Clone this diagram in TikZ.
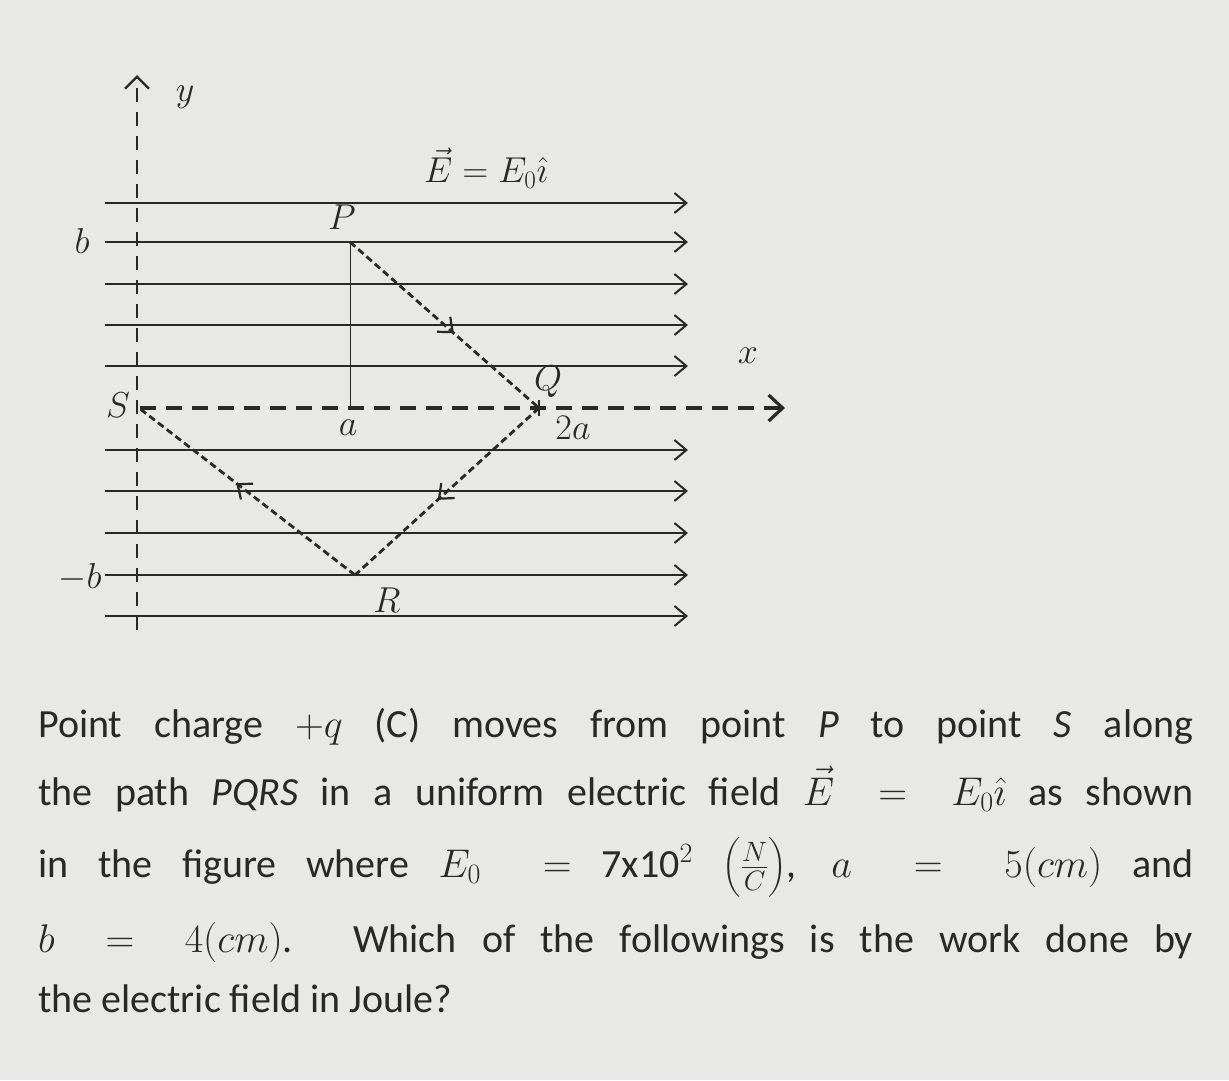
\RequirePackage{fix-cm}
\documentclass[tikz,border=0pt]{standalone}
\usepackage{amsmath}
\usepackage{fontspec}
\setmainfont{Carlito}
\usetikzlibrary{arrows.meta,decorations.markings}
\definecolor{bg}{RGB}{232,232,230}
\definecolor{ink}{RGB}{40,40,40}
\tikzset{
 fline/.style={ink,line width=2.6pt,-{Straight Barb[length=12pt,width=20pt,line width=2pt]}},
 pathseg/.style={ink,line width=2.8pt,dash pattern=on 7pt off 4pt,
   postaction={decorate},decoration={markings,mark=at position 0.55 with {\arrow{Straight Barb[length=12pt,width=20pt,line width=2.2pt]}}}},
 lab/.style={ink,font=\fontsize{36}{42}\selectfont},
 txt/.style={ink,anchor=base west,inner sep=0pt,font=\fontsize{40}{48}\selectfont},
 tick/.style={ink,line width=2.2pt}
}
\begin{document}
\begin{tikzpicture}[x=1pt,y=-1pt]
\fill[bg] (0,0) rectangle (1229,1080);
\useasboundingbox (0,0) rectangle (1229,1080);
% field lines
\foreach \yy in {203,242,284,325,366,450,491,533,575,616}{
  \coordinate (l\yy) at (105,\yy); \coordinate (r\yy) at (688,\yy);
  \draw[fline] (l\yy) -- (r\yy);
  \draw[tick] (130,\yy) -- (144,\yy);
}
% axes
\coordinate (yb) at (137,630); \coordinate (yt) at (137,75);
\draw[ink,line width=2.4pt,dash pattern=on 14pt off 10pt,-{Straight Barb[length=12pt,width=24pt,line width=2.4pt]}] (yb) -- (yt);
\coordinate (xl) at (140,408); \coordinate (xr) at (785,408);
\draw[ink,line width=3.2pt,dash pattern=on 16pt off 10pt,-{Straight Barb[length=14pt,width=26pt,line width=3.2pt]}] (xl) -- (xr);
% points
\coordinate (P) at (350,242); \coordinate (Q) at (539,408);
\coordinate (R) at (355,575); \coordinate (S) at (139,408);
\coordinate (A) at (350,408);
\draw[ink,line width=0.9pt] (P) -- (A);
\draw[pathseg] (P) -- (Q);
\draw[pathseg] (Q) -- (R);
\draw[pathseg] (R) -- (S);
\draw[tick] (539,400) -- (539,416);
% labels
\node[lab] (ly) at (185,97) {$y$};
\node[lab] (lx) at (748,356) {$x$};
\node[lab] (lE) at (486,168) {$\vec{E}=E_0\hat{\imath}$};
\node[lab] (lb) at (82,241) {$b$};
\node[lab] (lmb) at (80,577) {$-b$};
\node[lab] (lP) at (342,217) {$P$};
\node[lab] (lQ) at (548,382) {$Q$};
\node[lab] (la) at (348,428) {$a$};
\node[lab] (l2a) at (573,428) {$2a$};
\node[lab] (lS) at (118,405) {$S$};
\node[lab] (lR) at (387,600) {$R$};
% text
\node[txt] (t1) at (38,737) {\makebox[1155pt][s]{Point charge $+q$ (C) moves from point \textit{P} to point \textit{S} along}};
\node[txt] (t2) at (38,805) {\makebox[1155pt][s]{the path \textit{PQRS} in a uniform electric field $\vec{E}=E_0\hat{\imath}$ as shown}};
\node[txt] (t3) at (38,877) {\makebox[1155pt][s]{in the figure where $E_0=$ 7x10$^2$ $\left(\frac{N}{C}\right)$, $a=5(cm)$ and}};
\node[txt] (t4) at (38,952) {\makebox[1155pt][s]{$b=4(cm)$. Which of the followings is the work done by}};
\node[txt] (t5) at (38,1012) {the electric field in Joule?};
\end{tikzpicture}
\end{document}
